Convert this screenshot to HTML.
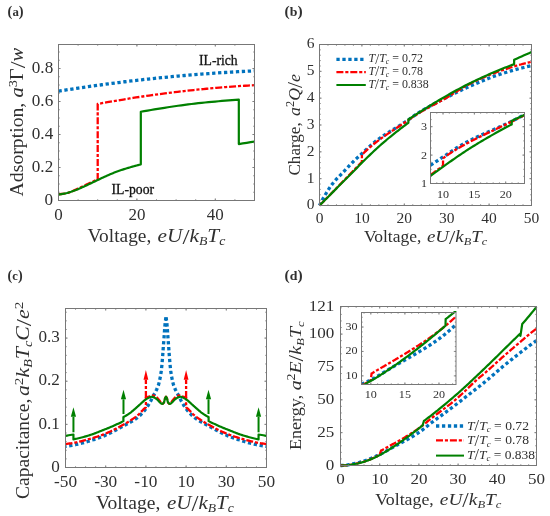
<!DOCTYPE html><html><head><meta charset="utf-8"><style>html,body{margin:0;padding:0;background:#fff;}svg{display:block;}</style></head><body>
<svg width="550" height="516" viewBox="0 0 550 516" font-family="'Liberation Serif', 'DejaVu Serif', serif" fill="#303030">
<rect width="550" height="516" fill="#fff"/>
<text x="7.6" y="15.6" font-size="14" textLength="16" lengthAdjust="spacingAndGlyphs" font-weight="bold">(<tspan font-size="12.5">a</tspan>)</text>
<text x="284.6" y="15.6" font-size="14" textLength="18" lengthAdjust="spacingAndGlyphs" font-weight="bold">(<tspan font-size="12.5">b</tspan>)</text>
<text x="7.6" y="279.6" font-size="14" textLength="15" lengthAdjust="spacingAndGlyphs" font-weight="bold">(<tspan font-size="12.5">c</tspan>)</text>
<text x="284.6" y="279.6" font-size="14" textLength="18" lengthAdjust="spacingAndGlyphs" font-weight="bold">(<tspan font-size="12.5">d</tspan>)</text>
<defs>
</defs>
<path d="M58.5,91.19 L61.82,90.65 L65.14,90.13 L68.47,89.6 L71.79,89.09 L75.11,88.58 L78.43,88.08 L81.75,87.58 L85.08,87.1 L88.4,86.61 L91.72,86.14 L95.04,85.67 L98.36,85.21 L101.69,84.75 L105.01,84.3 L108.33,83.86 L111.65,83.42 L114.97,82.99 L118.3,82.57 L121.62,82.15 L124.94,81.75 L128.26,81.34 L131.58,80.95 L134.91,80.56 L138.23,80.17 L141.55,79.8 L144.87,79.42 L148.19,79.06 L151.52,78.7 L154.84,78.35 L158.16,78.01 L161.48,77.67 L164.81,77.34 L168.13,77.02 L171.45,76.7 L174.77,76.39 L178.09,76.08 L181.42,75.78 L184.74,75.49 L188.06,75.21 L191.38,74.93 L194.7,74.66 L198.03,74.39 L201.35,74.13 L204.67,73.88 L207.99,73.64 L211.31,73.4 L214.64,73.17 L217.96,72.94 L221.28,72.72 L224.6,72.51 L227.92,72.3 L231.25,72.1 L234.57,71.91 L237.89,71.72 L241.21,71.54 L244.53,71.37 L247.86,71.2 L251.18,71.04 L254.5,70.89" stroke="#0072BD" stroke-width="3.3" stroke-dasharray="3.3 2.65" fill="none" stroke-linejoin="round"/>
<path d="M58.5,194.23 L59.85,194.13 L61.2,194.02 L62.56,193.88 L63.91,193.7 L65.26,193.47 L66.61,193.18 L67.96,192.81 L69.31,192.37 L70.67,191.88 L72.02,191.35 L73.37,190.77 L74.72,190.17 L76.07,189.54 L77.42,188.9 L78.78,188.25 L80.13,187.61 L81.48,186.96 L82.83,186.31 L84.18,185.66 L85.53,185.02 L86.89,184.38 L88.24,183.74 L89.59,183.11 L90.94,182.48 L92.29,181.86 L93.64,181.24 L95,180.62 L96.35,180 L97.7,179.38 L97.7,103.98 L100.9,103.39 L104.1,102.81 L107.3,102.24 L110.5,101.67 L113.7,101.12 L116.9,100.57 L120.1,100.04 L123.3,99.51 L126.5,98.99 L129.7,98.47 L132.9,97.97 L136.1,97.48 L139.3,96.99 L142.5,96.51 L145.7,96.04 L148.9,95.58 L152.1,95.13 L155.3,94.69 L158.5,94.25 L161.7,93.83 L164.9,93.41 L168.1,93 L171.3,92.6 L174.5,92.21 L177.7,91.82 L180.9,91.45 L184.1,91.08 L187.3,90.72 L190.5,90.37 L193.7,90.03 L196.9,89.7 L200.1,89.37 L203.3,89.06 L206.5,88.75 L209.7,88.45 L212.9,88.16 L216.1,87.88 L219.3,87.61 L222.5,87.34 L225.7,87.09 L228.9,86.84 L232.1,86.6 L235.3,86.37 L238.5,86.15 L241.7,85.93 L244.9,85.73 L248.1,85.53 L251.3,85.34 L254.5,85.16" stroke="#FF0000" stroke-width="2.3" stroke-dasharray="7 1.9 3.1 1.9" fill="none" stroke-linejoin="round"/>
<path d="M58.5,194.56 L59.9,194.35 L61.29,194.13 L62.69,193.9 L64.08,193.64 L65.48,193.36 L66.87,193.03 L68.27,192.66 L69.66,192.24 L71.06,191.8 L72.45,191.32 L73.85,190.81 L75.24,190.28 L76.64,189.72 L78.03,189.15 L79.43,188.56 L80.82,187.96 L82.22,187.35 L83.61,186.72 L85.01,186.08 L86.41,185.43 L87.8,184.77 L89.2,184.11 L90.59,183.44 L91.99,182.76 L93.38,182.08 L94.78,181.41 L96.17,180.73 L97.57,180.06 L98.96,179.39 L100.36,178.73 L101.75,178.07 L103.15,177.42 L104.54,176.78 L105.94,176.15 L107.33,175.53 L108.73,174.92 L110.12,174.32 L111.52,173.73 L112.91,173.16 L114.31,172.6 L115.71,172.06 L117.1,171.53 L118.5,171.02 L119.89,170.53 L121.29,170.05 L122.68,169.59 L124.08,169.13 L125.47,168.69 L126.87,168.26 L128.26,167.85 L129.66,167.44 L131.05,167.03 L132.45,166.64 L133.84,166.25 L135.24,165.87 L136.63,165.49 L138.03,165.11 L139.42,164.74 L140.82,164.37 L140.82,111.73 L144.2,111.15 L147.58,110.58 L150.96,110.01 L154.34,109.44 L157.72,108.88 L161.1,108.33 L164.48,107.79 L167.85,107.26 L171.23,106.75 L174.61,106.25 L177.99,105.76 L181.37,105.29 L184.75,104.84 L188.13,104.41 L191.51,103.99 L194.89,103.59 L198.27,103.2 L201.65,102.83 L205.03,102.48 L208.41,102.14 L211.79,101.83 L215.16,101.53 L218.54,101.24 L221.92,100.96 L225.3,100.69 L228.68,100.43 L232.06,100.18 L235.44,99.93 L238.82,99.69 L238.82,144.07 L242.74,143.45 L246.66,142.83 L250.58,142.21 L254.5,141.59" stroke="#008000" stroke-width="2.2" fill="none" stroke-linejoin="round"/>
<path d="M58.5,200.5v-1.3M58.5,44.5v1.3M78.1,200.5v-1.3M78.1,44.5v1.3M97.7,200.5v-1.3M97.7,44.5v1.3M117.3,200.5v-1.3M117.3,44.5v1.3M136.9,200.5v-1.3M136.9,44.5v1.3M156.5,200.5v-1.3M156.5,44.5v1.3M176.1,200.5v-1.3M176.1,44.5v1.3M195.7,200.5v-1.3M195.7,44.5v1.3M215.3,200.5v-1.3M215.3,44.5v1.3M234.9,200.5v-1.3M234.9,44.5v1.3M254.5,200.5v-1.3M254.5,44.5v1.3M58.5,200.5v-2.2M58.5,44.5v2.2M136.9,200.5v-2.2M136.9,44.5v2.2M215.3,200.5v-2.2M215.3,44.5v2.2M58.5,200.5h1.3M254.5,200.5h-1.3M58.5,192.25h1.3M254.5,192.25h-1.3M58.5,184h1.3M254.5,184h-1.3M58.5,175.75h1.3M254.5,175.75h-1.3M58.5,167.5h1.3M254.5,167.5h-1.3M58.5,159.25h1.3M254.5,159.25h-1.3M58.5,151h1.3M254.5,151h-1.3M58.5,142.75h1.3M254.5,142.75h-1.3M58.5,134.5h1.3M254.5,134.5h-1.3M58.5,126.25h1.3M254.5,126.25h-1.3M58.5,118h1.3M254.5,118h-1.3M58.5,109.75h1.3M254.5,109.75h-1.3M58.5,101.5h1.3M254.5,101.5h-1.3M58.5,93.25h1.3M254.5,93.25h-1.3M58.5,85h1.3M254.5,85h-1.3M58.5,76.75h1.3M254.5,76.75h-1.3M58.5,68.5h1.3M254.5,68.5h-1.3M58.5,60.25h1.3M254.5,60.25h-1.3M58.5,52h1.3M254.5,52h-1.3M58.5,200.5h2.2M254.5,200.5h-2.2M58.5,167.5h2.2M254.5,167.5h-2.2M58.5,134.5h2.2M254.5,134.5h-2.2M58.5,101.5h2.2M254.5,101.5h-2.2M58.5,68.5h2.2M254.5,68.5h-2.2" stroke="#777777" stroke-width="0.8" fill="none"/>
<rect x="58.5" y="44.5" width="196" height="156" stroke="#777777" stroke-width="1" fill="none"/>
<text x="53.2" y="205.3" font-size="16" text-anchor="end" textLength="8.56" lengthAdjust="spacingAndGlyphs">0</text>
<text x="53.2" y="172.3" font-size="16" text-anchor="end" textLength="21.4" lengthAdjust="spacingAndGlyphs">0.2</text>
<text x="53.2" y="139.3" font-size="16" text-anchor="end" textLength="21.4" lengthAdjust="spacingAndGlyphs">0.4</text>
<text x="53.2" y="106.3" font-size="16" text-anchor="end" textLength="21.4" lengthAdjust="spacingAndGlyphs">0.6</text>
<text x="53.2" y="73.3" font-size="16" text-anchor="end" textLength="21.4" lengthAdjust="spacingAndGlyphs">0.8</text>
<text x="58.5" y="219.5" font-size="16" text-anchor="middle" textLength="8.48" lengthAdjust="spacingAndGlyphs">0</text>
<text x="136.9" y="219.5" font-size="16" text-anchor="middle" textLength="16.96" lengthAdjust="spacingAndGlyphs">20</text>
<text x="215.3" y="219.5" font-size="16" text-anchor="middle" textLength="16.96" lengthAdjust="spacingAndGlyphs">40</text>
<text x="87.6" y="241.5" font-size="18" textLength="63.7" lengthAdjust="spacingAndGlyphs">Voltage,</text>
<text x="157.6" y="241.5" font-size="18" textLength="67.7" lengthAdjust="spacingAndGlyphs"><tspan font-style="italic">eU</tspan><tspan font-size="21.6" dy="2.16">/</tspan><tspan font-style="italic" dy="-2.16">k</tspan><tspan font-style="italic" font-size="11.7" dy="3.24">B</tspan><tspan font-style="italic" dy="-3.24">T</tspan><tspan font-style="italic" font-size="11.7" dy="3.24">c</tspan></text>
<text transform="translate(23,196.4) rotate(-90)" x="0" y="0" font-size="18" textLength="93.7" lengthAdjust="spacingAndGlyphs">Adsorption,</text>
<text transform="translate(23,97.6) rotate(-90)" x="0" y="0" font-size="18" textLength="49.8" lengthAdjust="spacingAndGlyphs"><tspan font-style="italic">a</tspan><tspan font-size="12.6" dy="-6.48">3</tspan><tspan dy="6.48">Γ</tspan><tspan font-size="21.6" dy="2.16">/</tspan><tspan font-style="italic" dy="-2.16">w</tspan></text>
<text x="199" y="64.6" font-size="14" textLength="38.7" lengthAdjust="spacingAndGlyphs" fill="#111" stroke="#111" stroke-width="0.3">IL-rich</text>
<text x="111.5" y="193.8" font-size="14" textLength="42.6" lengthAdjust="spacingAndGlyphs" fill="#111" stroke="#111" stroke-width="0.3">IL-poor</text>
<path d="M319.5,205.5 L321.28,201.93 L323.06,198.6 L324.84,195.49 L326.63,192.49 L328.41,189.63 L330.19,186.94 L331.97,184.47 L333.75,182.23 L335.53,180.17 L337.32,178.24 L339.1,176.4 L340.88,174.59 L342.66,172.78 L344.44,170.92 L346.22,169.01 L348,167.1 L349.79,165.21 L351.57,163.36 L353.35,161.56 L355.13,159.84 L356.91,158.16 L358.69,156.52 L360.47,154.89 L362.26,153.26 L364.04,151.61 L365.82,149.94 L367.6,148.28 L369.38,146.64 L371.16,145.04 L372.95,143.49 L374.73,142.02 L376.51,140.63 L378.29,139.3 L380.07,138.02 L381.85,136.78 L383.63,135.57 L385.42,134.4 L387.2,133.25 L388.98,132.12 L390.76,131.01 L392.54,129.92 L394.32,128.82 L396.11,127.74 L397.89,126.64 L399.67,125.54 L401.45,124.43 L403.23,123.3 L405.01,122.15 L406.79,120.97 L408.58,119.76 L410.36,118.49 L412.14,117.17 L413.92,115.86 L415.7,114.6 L417.48,113.44 L419.26,112.32 L421.05,111.23 L422.83,110.17 L424.61,109.13 L426.39,108.1 L428.17,107.1 L429.95,106.11 L431.74,105.14 L433.52,104.18 L435.3,103.24 L437.08,102.3 L438.86,101.37 L440.64,100.46 L442.42,99.54 L444.21,98.63 L445.99,97.73 L447.77,96.82 L449.55,95.92 L451.33,95.02 L453.11,94.13 L454.89,93.24 L456.68,92.37 L458.46,91.5 L460.24,90.65 L462.02,89.81 L463.8,88.98 L465.58,88.16 L467.37,87.35 L469.15,86.56 L470.93,85.78 L472.71,84.99 L474.49,84.22 L476.27,83.44 L478.05,82.67 L479.84,81.91 L481.62,81.16 L483.4,80.42 L485.18,79.69 L486.96,78.98 L488.74,78.28 L490.53,77.6 L492.31,76.93 L494.09,76.29 L495.87,75.67 L497.65,75.07 L499.43,74.48 L501.21,73.91 L503,73.34 L504.78,72.78 L506.56,72.23 L508.34,71.68 L510.12,71.15 L511.9,70.63 L513.68,70.12 L515.47,69.62 L517.25,69.13 L519.03,68.65 L520.81,68.19 L522.59,67.74 L524.37,67.3 L526.16,66.88 L527.94,66.47 L529.72,66.08 L531.5,65.7" stroke="#0072BD" stroke-width="3.3" stroke-dasharray="3.3 2.65" fill="none" stroke-linejoin="round"/>
<path d="M319.5,205.5 L320.59,204.4 L321.67,203.3 L322.76,202.19 L323.85,201.09 L324.94,199.98 L326.02,198.87 L327.11,197.77 L328.2,196.66 L329.28,195.55 L330.37,194.44 L331.46,193.32 L332.55,192.21 L333.63,191.1 L334.72,189.98 L335.81,188.86 L336.89,187.75 L337.98,186.62 L339.07,185.5 L340.16,184.38 L341.24,183.25 L342.33,182.12 L343.42,180.99 L344.51,179.86 L345.59,178.73 L346.68,177.6 L347.77,176.47 L348.85,175.35 L349.94,174.22 L351.03,173.09 L352.12,171.96 L353.2,170.84 L354.29,169.72 L355.38,168.6 L356.46,167.48 L357.55,166.36 L358.64,165.24 L359.73,164.13 L360.81,163.01 L361.9,161.9 L361.9,154.89 L364.05,152.67 L366.19,150.57 L368.34,148.62 L370.49,146.76 L372.63,144.97 L374.78,143.26 L376.93,141.6 L379.07,139.99 L381.22,138.42 L383.37,136.89 L385.52,135.39 L387.66,133.92 L389.81,132.47 L391.96,131.04 L394.1,129.62 L396.25,128.21 L398.4,126.8 L400.54,125.39 L402.69,123.98 L404.84,122.55 L406.98,121.11 L409.13,119.65 L411.28,118.15 L413.42,116.65 L415.57,115.2 L417.72,113.83 L419.86,112.52 L422.01,111.25 L424.16,110.02 L426.31,108.81 L428.45,107.62 L430.6,106.45 L432.75,105.3 L434.89,104.14 L437.04,102.99 L439.19,101.83 L441.33,100.65 L443.48,99.46 L445.63,98.25 L447.77,97 L449.92,95.71 L452.07,94.39 L454.21,93.05 L456.36,91.69 L458.51,90.35 L460.65,89.02 L462.8,87.72 L464.95,86.46 L467.09,85.26 L469.24,84.12 L471.39,83.05 L473.54,82 L475.68,80.97 L477.83,79.96 L479.98,78.98 L482.12,78.02 L484.27,77.09 L486.42,76.18 L488.56,75.3 L490.71,74.44 L492.86,73.61 L495,72.8 L497.15,72.02 L499.3,71.27 L501.44,70.52 L503.59,69.79 L505.74,69.07 L507.88,68.37 L510.03,67.68 L512.18,67 L514.33,66.35 L516.47,65.71 L518.62,65.09 L520.77,64.49 L522.91,63.91 L525.06,63.35 L527.21,62.81 L529.35,62.3 L531.5,61.81" stroke="#FF0000" stroke-width="2.3" stroke-dasharray="7 1.9 3.1 1.9" fill="none" stroke-linejoin="round"/>
<path d="M319.5,205.5 L321.01,203.99 L322.51,202.47 L324.02,200.96 L325.53,199.45 L327.03,197.93 L328.54,196.42 L330.04,194.91 L331.55,193.39 L333.06,191.88 L334.56,190.37 L336.07,188.85 L337.58,187.34 L339.08,185.83 L340.59,184.32 L342.09,182.81 L343.6,181.29 L345.11,179.78 L346.61,178.27 L348.12,176.76 L349.63,175.24 L351.13,173.73 L352.64,172.21 L354.14,170.69 L355.65,169.16 L357.16,167.62 L358.66,166.09 L360.17,164.57 L361.68,163.06 L363.18,161.56 L364.69,160.07 L366.19,158.58 L367.7,157.09 L369.21,155.61 L370.71,154.15 L372.22,152.7 L373.73,151.26 L375.23,149.85 L376.74,148.46 L378.24,147.1 L379.75,145.75 L381.26,144.43 L382.76,143.11 L384.27,141.82 L385.78,140.54 L387.28,139.27 L388.79,138.02 L390.3,136.78 L391.8,135.55 L393.31,134.34 L394.81,133.14 L396.32,131.95 L397.83,130.77 L399.33,129.6 L400.84,128.44 L402.35,127.3 L403.85,126.17 L405.36,125.05 L406.86,123.94 L408.37,122.85 L408.37,119.47 L410.16,118.29 L411.95,117.11 L413.75,115.94 L415.54,114.78 L417.33,113.64 L419.12,112.5 L420.92,111.36 L422.71,110.23 L424.5,109.1 L426.29,107.97 L428.09,106.85 L429.88,105.73 L431.67,104.62 L433.46,103.52 L435.25,102.44 L437.05,101.36 L438.84,100.29 L440.63,99.23 L442.42,98.19 L444.22,97.15 L446.01,96.12 L447.8,95.09 L449.59,94.07 L451.39,93.06 L453.18,92.05 L454.97,91.06 L456.76,90.07 L458.55,89.1 L460.35,88.13 L462.14,87.18 L463.93,86.25 L465.72,85.33 L467.52,84.43 L469.31,83.55 L471.1,82.68 L472.89,81.82 L474.69,80.96 L476.48,80.11 L478.27,79.27 L480.06,78.43 L481.85,77.6 L483.65,76.78 L485.44,75.97 L487.23,75.16 L489.02,74.36 L490.82,73.58 L492.61,72.8 L494.4,72.02 L496.19,71.26 L497.99,70.51 L499.78,69.77 L501.57,69.04 L503.36,68.32 L505.15,67.6 L506.95,66.91 L508.74,66.22 L510.53,65.54 L512.32,64.88 L514.12,64.22 L514.12,59.8 L516.6,58.68 L519.08,57.57 L521.57,56.46 L524.05,55.35 L526.53,54.24 L529.02,53.13 L531.5,52.01" stroke="#008000" stroke-width="2.2" fill="none" stroke-linejoin="round"/>
<path d="M319.5,205.5v-1.3M319.5,44.5v1.3M327.98,205.5v-1.3M327.98,44.5v1.3M336.46,205.5v-1.3M336.46,44.5v1.3M344.94,205.5v-1.3M344.94,44.5v1.3M353.42,205.5v-1.3M353.42,44.5v1.3M361.9,205.5v-1.3M361.9,44.5v1.3M370.38,205.5v-1.3M370.38,44.5v1.3M378.86,205.5v-1.3M378.86,44.5v1.3M387.34,205.5v-1.3M387.34,44.5v1.3M395.82,205.5v-1.3M395.82,44.5v1.3M404.3,205.5v-1.3M404.3,44.5v1.3M412.78,205.5v-1.3M412.78,44.5v1.3M421.26,205.5v-1.3M421.26,44.5v1.3M429.74,205.5v-1.3M429.74,44.5v1.3M438.22,205.5v-1.3M438.22,44.5v1.3M446.7,205.5v-1.3M446.7,44.5v1.3M455.18,205.5v-1.3M455.18,44.5v1.3M463.66,205.5v-1.3M463.66,44.5v1.3M472.14,205.5v-1.3M472.14,44.5v1.3M480.62,205.5v-1.3M480.62,44.5v1.3M489.1,205.5v-1.3M489.1,44.5v1.3M497.58,205.5v-1.3M497.58,44.5v1.3M506.06,205.5v-1.3M506.06,44.5v1.3M514.54,205.5v-1.3M514.54,44.5v1.3M523.02,205.5v-1.3M523.02,44.5v1.3M531.5,205.5v-1.3M531.5,44.5v1.3M319.5,205.5v-2.2M319.5,44.5v2.2M361.9,205.5v-2.2M361.9,44.5v2.2M404.3,205.5v-2.2M404.3,44.5v2.2M446.7,205.5v-2.2M446.7,44.5v2.2M489.1,205.5v-2.2M489.1,44.5v2.2M531.5,205.5v-2.2M531.5,44.5v2.2M319.5,205.5h1.3M531.5,205.5h-1.3M319.5,200.13h1.3M531.5,200.13h-1.3M319.5,194.77h1.3M531.5,194.77h-1.3M319.5,189.4h1.3M531.5,189.4h-1.3M319.5,184.03h1.3M531.5,184.03h-1.3M319.5,178.67h1.3M531.5,178.67h-1.3M319.5,173.3h1.3M531.5,173.3h-1.3M319.5,167.93h1.3M531.5,167.93h-1.3M319.5,162.57h1.3M531.5,162.57h-1.3M319.5,157.2h1.3M531.5,157.2h-1.3M319.5,151.83h1.3M531.5,151.83h-1.3M319.5,146.47h1.3M531.5,146.47h-1.3M319.5,141.1h1.3M531.5,141.1h-1.3M319.5,135.73h1.3M531.5,135.73h-1.3M319.5,130.37h1.3M531.5,130.37h-1.3M319.5,125h1.3M531.5,125h-1.3M319.5,119.63h1.3M531.5,119.63h-1.3M319.5,114.27h1.3M531.5,114.27h-1.3M319.5,108.9h1.3M531.5,108.9h-1.3M319.5,103.53h1.3M531.5,103.53h-1.3M319.5,98.17h1.3M531.5,98.17h-1.3M319.5,92.8h1.3M531.5,92.8h-1.3M319.5,87.43h1.3M531.5,87.43h-1.3M319.5,82.07h1.3M531.5,82.07h-1.3M319.5,76.7h1.3M531.5,76.7h-1.3M319.5,71.33h1.3M531.5,71.33h-1.3M319.5,65.97h1.3M531.5,65.97h-1.3M319.5,60.6h1.3M531.5,60.6h-1.3M319.5,55.23h1.3M531.5,55.23h-1.3M319.5,49.87h1.3M531.5,49.87h-1.3M319.5,44.5h1.3M531.5,44.5h-1.3M319.5,205.5h2.2M531.5,205.5h-2.2M319.5,178.67h2.2M531.5,178.67h-2.2M319.5,151.83h2.2M531.5,151.83h-2.2M319.5,125h2.2M531.5,125h-2.2M319.5,98.17h2.2M531.5,98.17h-2.2M319.5,71.33h2.2M531.5,71.33h-2.2M319.5,44.5h2.2M531.5,44.5h-2.2" stroke="#777777" stroke-width="0.8" fill="none"/>
<rect x="319.5" y="44.5" width="212" height="161" stroke="#777777" stroke-width="1" fill="none"/>
<text x="314.6" y="209.4" font-size="15.5" text-anchor="end">0</text>
<text x="314.6" y="182.57" font-size="15.5" text-anchor="end">1</text>
<text x="314.6" y="155.73" font-size="15.5" text-anchor="end">2</text>
<text x="314.6" y="128.9" font-size="15.5" text-anchor="end">3</text>
<text x="314.6" y="102.07" font-size="15.5" text-anchor="end">4</text>
<text x="314.6" y="75.23" font-size="15.5" text-anchor="end">5</text>
<text x="314.6" y="48.4" font-size="15.5" text-anchor="end">6</text>
<text x="319.5" y="222.5" font-size="15.5" text-anchor="middle">0</text>
<text x="361.9" y="222.5" font-size="15.5" text-anchor="middle">10</text>
<text x="404.3" y="222.5" font-size="15.5" text-anchor="middle">20</text>
<text x="446.7" y="222.5" font-size="15.5" text-anchor="middle">30</text>
<text x="489.1" y="222.5" font-size="15.5" text-anchor="middle">40</text>
<text x="531.5" y="222.5" font-size="15.5" text-anchor="middle">50</text>
<text x="363.9" y="241.7" font-size="16" textLength="57.4" lengthAdjust="spacingAndGlyphs">Voltage,</text>
<text x="426.9" y="241.7" font-size="16" textLength="60.3" lengthAdjust="spacingAndGlyphs"><tspan font-style="italic">eU</tspan><tspan font-size="19.2" dy="1.92">/</tspan><tspan font-style="italic" dy="-1.92">k</tspan><tspan font-style="italic" font-size="10.4" dy="2.88">B</tspan><tspan font-style="italic" dy="-2.88">T</tspan><tspan font-style="italic" font-size="10.4" dy="2.88">c</tspan></text>
<text transform="translate(300,175.5) rotate(-90)" x="0" y="0" font-size="17.5" textLength="53.2" lengthAdjust="spacingAndGlyphs">Charge,</text>
<text transform="translate(300,115.9) rotate(-90)" x="0" y="0" font-size="17.5" textLength="41.7" lengthAdjust="spacingAndGlyphs"><tspan font-style="italic">a</tspan><tspan font-size="12.2" dy="-6.30">2</tspan><tspan font-style="italic" dy="6.30">Q</tspan><tspan font-size="21.0" dy="2.10">/</tspan><tspan font-style="italic" dy="-2.10">e</tspan></text>
<path d="M336.4,59.4H365.8" stroke="#0072BD" stroke-width="3.3" stroke-dasharray="3.3 2.65"/>
<text x="368.5" y="62.3" font-size="11.5" textLength="54.4" lengthAdjust="spacingAndGlyphs"><tspan font-style="italic">T</tspan><tspan font-size="13.8" dy="1.38">/</tspan><tspan font-style="italic" dy="-1.38">T</tspan><tspan font-style="italic" font-size="7.5" dy="2.07">c</tspan><tspan dy="-2.07"> = 0.72</tspan></text>
<path d="M336.4,72.1H365.8" stroke="#FF0000" stroke-width="2.3" stroke-dasharray="7 1.9 3.1 1.9"/>
<text x="368.5" y="75.1" font-size="11.5" textLength="54.4" lengthAdjust="spacingAndGlyphs"><tspan font-style="italic">T</tspan><tspan font-size="13.8" dy="1.38">/</tspan><tspan font-style="italic" dy="-1.38">T</tspan><tspan font-style="italic" font-size="7.5" dy="2.07">c</tspan><tspan dy="-2.07"> = 0.78</tspan></text>
<path d="M336.4,85H365.8" stroke="#008000" stroke-width="2"/>
<text x="368.5" y="87.9" font-size="11.5" textLength="60.2" lengthAdjust="spacingAndGlyphs"><tspan font-style="italic">T</tspan><tspan font-size="13.8" dy="1.38">/</tspan><tspan font-style="italic" dy="-1.38">T</tspan><tspan font-style="italic" font-size="7.5" dy="2.07">c</tspan><tspan dy="-2.07"> = 0.838</tspan></text>
<rect x="430.5" y="112.5" width="94" height="71" fill="#fff"/>
<clipPath id="cbi"><rect x="430.5" y="111.0" width="95.5" height="72.5"/></clipPath>
<path d="M430.5,165.32 L431.29,164.77 L432.08,164.22 L432.87,163.68 L433.66,163.14 L434.45,162.61 L435.24,162.08 L436.03,161.55 L436.82,161.03 L437.61,160.51 L438.4,159.99 L439.19,159.47 L439.98,158.96 L440.77,158.44 L441.56,157.93 L442.35,157.41 L443.14,156.89 L443.93,156.37 L444.72,155.85 L445.51,155.32 L446.3,154.79 L447.09,154.26 L447.88,153.73 L448.67,153.2 L449.46,152.67 L450.25,152.15 L451.04,151.62 L451.83,151.09 L452.62,150.57 L453.41,150.05 L454.2,149.53 L454.99,149.02 L455.78,148.51 L456.57,148.01 L457.36,147.51 L458.15,147.02 L458.94,146.53 L459.73,146.05 L460.52,145.57 L461.31,145.11 L462.1,144.65 L462.89,144.2 L463.68,143.76 L464.47,143.33 L465.26,142.9 L466.05,142.48 L466.84,142.06 L467.63,141.64 L468.42,141.23 L469.21,140.83 L470,140.42 L470.79,140.03 L471.58,139.63 L472.37,139.24 L473.16,138.85 L473.95,138.47 L474.74,138.09 L475.53,137.71 L476.32,137.34 L477.11,136.96 L477.89,136.6 L478.68,136.23 L479.47,135.86 L480.26,135.5 L481.05,135.14 L481.84,134.78 L482.63,134.43 L483.42,134.07 L484.21,133.72 L485,133.37 L485.79,133.02 L486.58,132.67 L487.37,132.32 L488.16,131.97 L488.95,131.62 L489.74,131.28 L490.53,130.93 L491.32,130.59 L492.11,130.24 L492.9,129.9 L493.69,129.55 L494.48,129.2 L495.27,128.86 L496.06,128.51 L496.85,128.16 L497.64,127.81 L498.43,127.46 L499.22,127.11 L500.01,126.76 L500.8,126.41 L501.59,126.05 L502.38,125.7 L503.17,125.34 L503.96,124.98 L504.75,124.61 L505.54,124.25 L506.33,123.88 L507.12,123.51 L507.91,123.14 L508.7,122.76 L509.49,122.39 L510.28,122 L511.07,121.62 L511.86,121.23 L512.65,120.84 L513.44,120.44 L514.23,120.03 L515.02,119.61 L515.81,119.2 L516.6,118.78 L517.39,118.36 L518.18,117.94 L518.97,117.52 L519.76,117.11 L520.55,116.7 L521.34,116.3 L522.13,115.9 L522.92,115.52 L523.71,115.14 L524.5,114.77" stroke="#0072BD" stroke-width="3.3" stroke-dasharray="3.3 2.65" fill="none" stroke-linejoin="round" clip-path="url(#cbi)"/>
<path d="M430.5,174.98 L430.82,174.74 L431.14,174.51 L431.46,174.27 L431.79,174.03 L432.11,173.79 L432.43,173.56 L432.75,173.32 L433.07,173.08 L433.39,172.84 L433.71,172.61 L434.04,172.37 L434.36,172.13 L434.68,171.9 L435,171.66 L435.32,171.42 L435.64,171.19 L435.96,170.95 L436.28,170.71 L436.61,170.48 L436.93,170.24 L437.25,170 L437.57,169.77 L437.89,169.53 L438.21,169.29 L438.53,169.06 L438.86,168.82 L439.18,168.58 L439.5,168.35 L439.82,168.11 L440.14,167.88 L440.46,167.64 L440.78,167.4 L441.11,167.17 L441.43,166.93 L441.75,166.69 L442.07,166.46 L442.39,166.22 L442.71,165.99 L443.03,165.75 L443.03,158.34 L444.06,157.56 L445.1,156.8 L446.13,156.04 L447.16,155.3 L448.19,154.57 L449.22,153.87 L450.25,153.18 L451.28,152.51 L452.31,151.85 L453.35,151.2 L454.38,150.56 L455.41,149.92 L456.44,149.3 L457.47,148.68 L458.5,148.07 L459.53,147.47 L460.56,146.88 L461.6,146.29 L462.63,145.71 L463.66,145.14 L464.69,144.57 L465.72,144.01 L466.75,143.45 L467.78,142.9 L468.81,142.36 L469.85,141.81 L470.88,141.28 L471.91,140.74 L472.94,140.21 L473.97,139.69 L475,139.16 L476.03,138.65 L477.06,138.13 L478.09,137.62 L479.13,137.11 L480.16,136.6 L481.19,136.1 L482.22,135.6 L483.25,135.1 L484.28,134.61 L485.31,134.11 L486.34,133.62 L487.38,133.13 L488.41,132.64 L489.44,132.15 L490.47,131.66 L491.5,131.18 L492.53,130.69 L493.56,130.21 L494.59,129.72 L495.63,129.24 L496.66,128.76 L497.69,128.27 L498.72,127.79 L499.75,127.3 L500.78,126.82 L501.81,126.33 L502.84,125.84 L503.88,125.36 L504.91,124.87 L505.94,124.38 L506.97,123.88 L508,123.39 L509.03,122.89 L510.06,122.39 L511.09,121.89 L512.13,121.39 L513.16,120.88 L514.19,120.36 L515.22,119.85 L516.25,119.33 L517.28,118.81 L518.31,118.3 L519.34,117.79 L520.38,117.28 L521.41,116.78 L522.44,116.29 L523.47,115.81 L524.5,115.34" stroke="#FF0000" stroke-width="2.3" stroke-dasharray="7 1.9 3.1 1.9" fill="none" stroke-linejoin="round" clip-path="url(#cbi)"/>
<path d="M430.5,175.83 L431.88,174.83 L433.25,173.83 L434.63,172.83 L436.01,171.82 L437.38,170.82 L438.76,169.82 L440.14,168.82 L441.51,167.83 L442.89,166.85 L444.27,165.87 L445.64,164.89 L447.02,163.91 L448.4,162.94 L449.77,161.96 L451.15,160.99 L452.52,160.02 L453.9,159.05 L455.28,158.09 L456.65,157.14 L458.03,156.19 L459.41,155.25 L460.78,154.31 L462.16,153.39 L463.54,152.47 L464.91,151.57 L466.29,150.67 L467.67,149.78 L469.04,148.9 L470.42,148.03 L471.8,147.16 L473.17,146.3 L474.55,145.45 L475.93,144.6 L477.3,143.76 L478.68,142.93 L480.06,142.1 L481.43,141.27 L482.81,140.46 L484.19,139.65 L485.56,138.84 L486.94,138.04 L488.31,137.24 L489.69,136.45 L491.07,135.66 L492.44,134.88 L493.82,134.1 L495.2,133.32 L496.57,132.56 L497.95,131.79 L499.33,131.03 L500.7,130.28 L502.08,129.53 L503.46,128.78 L504.83,128.04 L506.21,127.31 L507.59,126.58 L508.96,125.86 L510.34,125.14 L511.72,124.43 L511.72,120.85 L511.93,120.75 L512.15,120.64 L512.37,120.54 L512.58,120.44 L512.8,120.34 L513.02,120.24 L513.23,120.13 L513.45,120.03 L513.67,119.93 L513.88,119.83 L514.1,119.72 L514.32,119.62 L514.53,119.52 L514.75,119.42 L514.97,119.31 L515.18,119.21 L515.4,119.11 L515.62,119.01 L515.83,118.91 L516.05,118.81 L516.27,118.7 L516.48,118.6 L516.7,118.5 L516.92,118.4 L517.13,118.3 L517.35,118.19 L517.57,118.09 L517.78,117.99 L518,117.89 L518.22,117.79 L518.43,117.69 L518.65,117.59 L518.87,117.49 L519.08,117.38 L519.3,117.28 L519.52,117.18 L519.73,117.08 L519.95,116.98 L520.17,116.88 L520.38,116.78 L520.6,116.68 L520.82,116.58 L521.03,116.48 L521.25,116.38 L521.47,116.28 L521.68,116.18 L521.9,116.08 L522.12,115.98 L522.33,115.88 L522.55,115.78 L522.77,115.68 L522.98,115.58 L523.2,115.48 L523.42,115.38 L523.63,115.28 L523.85,115.18 L524.07,115.08 L524.28,114.98 L524.5,114.89" stroke="#008000" stroke-width="2.2" fill="none" stroke-linejoin="round" clip-path="url(#cbi)"/>
<path d="M430.5,183.5v-1.2M430.5,112.5v1.2M436.77,183.5v-1.2M436.77,112.5v1.2M443.03,183.5v-1.2M443.03,112.5v1.2M449.3,183.5v-1.2M449.3,112.5v1.2M455.57,183.5v-1.2M455.57,112.5v1.2M461.83,183.5v-1.2M461.83,112.5v1.2M468.1,183.5v-1.2M468.1,112.5v1.2M474.37,183.5v-1.2M474.37,112.5v1.2M480.63,183.5v-1.2M480.63,112.5v1.2M486.9,183.5v-1.2M486.9,112.5v1.2M493.17,183.5v-1.2M493.17,112.5v1.2M499.43,183.5v-1.2M499.43,112.5v1.2M505.7,183.5v-1.2M505.7,112.5v1.2M511.97,183.5v-1.2M511.97,112.5v1.2M518.23,183.5v-1.2M518.23,112.5v1.2M524.5,183.5v-1.2M524.5,112.5v1.2M443.03,183.5v-2.2M443.03,112.5v2.2M474.37,183.5v-2.2M474.37,112.5v2.2M505.7,183.5v-2.2M505.7,112.5v2.2M430.5,183.5h1.2M524.5,183.5h-1.2M430.5,176.4h1.2M524.5,176.4h-1.2M430.5,169.3h1.2M524.5,169.3h-1.2M430.5,162.2h1.2M524.5,162.2h-1.2M430.5,155.1h1.2M524.5,155.1h-1.2M430.5,148h1.2M524.5,148h-1.2M430.5,140.9h1.2M524.5,140.9h-1.2M430.5,133.8h1.2M524.5,133.8h-1.2M430.5,126.7h1.2M524.5,126.7h-1.2M430.5,119.6h1.2M524.5,119.6h-1.2M430.5,112.5h1.2M524.5,112.5h-1.2M430.5,183.5h2.2M524.5,183.5h-2.2M430.5,155.1h2.2M524.5,155.1h-2.2M430.5,126.7h2.2M524.5,126.7h-2.2" stroke="#777777" stroke-width="0.8" fill="none"/>
<rect x="430.5" y="112.5" width="94" height="71" stroke="#777777" stroke-width="1" fill="none"/>
<text x="427" y="187" font-size="11" text-anchor="end" textLength="6.05" lengthAdjust="spacingAndGlyphs">1</text>
<text x="427" y="158.6" font-size="11" text-anchor="end" textLength="6.05" lengthAdjust="spacingAndGlyphs">2</text>
<text x="427" y="130.2" font-size="11" text-anchor="end" textLength="6.05" lengthAdjust="spacingAndGlyphs">3</text>
<text x="443.03" y="198.4" font-size="11" text-anchor="middle" textLength="12.1" lengthAdjust="spacingAndGlyphs">10</text>
<text x="474.37" y="198.4" font-size="11" text-anchor="middle" textLength="12.1" lengthAdjust="spacingAndGlyphs">15</text>
<text x="505.7" y="198.4" font-size="11" text-anchor="middle" textLength="12.1" lengthAdjust="spacingAndGlyphs">20</text>
<path d="M166,317.39 L165.33,321.37 L164.65,328.65 L163.98,338.69 L163.3,346.98 L162.63,356.55 L161.95,364.51 L161.28,370.95 L160.6,375.41 L159.93,378.91 L159.26,382.08 L158.58,384.63 L157.91,386.55 L157.23,388.25 L156.56,389.75 L155.88,391.12 L155.21,392.4 L154.53,393.64 L153.86,394.89 L153.18,396.2 L152.51,397.52 L151.84,398.84 L151.16,400.14 L150.49,401.4 L149.81,402.63 L149.14,403.81 L148.46,404.94 L147.79,406 L147.11,407.01 L146.44,407.98 L145.77,408.9 L145.09,409.78 L144.42,410.61 L143.74,411.4 L143.07,412.17 L142.39,412.93 L141.72,413.66 L141.04,414.37 L140.37,415.05 L139.69,415.71 L139.02,416.33 L138.35,416.91 L137.67,417.45 L137,417.97 L136.32,418.46 L135.65,418.94 L134.97,419.4 L134.3,419.85 L133.62,420.29 L132.95,420.71 L132.28,421.12 L131.6,421.52 L130.93,421.91 L130.25,422.3 L129.58,422.67 L128.9,423.04 L128.23,423.41 L127.55,423.77 L126.88,424.13 L126.2,424.49 L125.53,424.84 L124.86,425.2 L124.18,425.56 L123.51,425.92 L122.83,426.28 L122.16,426.65 L121.48,427.01 L120.81,427.38 L120.13,427.75 L119.46,428.12 L118.79,428.48 L118.11,428.85 L117.44,429.22 L116.76,429.58 L116.09,429.95 L115.41,430.31 L114.74,430.67 L114.06,431.03 L113.39,431.39 L112.71,431.74 L112.04,432.09 L111.37,432.44 L110.69,432.78 L110.02,433.12 L109.34,433.46 L108.67,433.79 L107.99,434.11 L107.32,434.43 L106.64,434.75 L105.97,435.06 L105.3,435.36 L104.62,435.66 L103.95,435.95 L103.27,436.24 L102.6,436.52 L101.92,436.79 L101.25,437.05 L100.57,437.3 L99.9,437.55 L99.22,437.79 L98.55,438.02 L97.88,438.24 L97.2,438.47 L96.53,438.69 L95.85,438.92 L95.18,439.14 L94.5,439.36 L93.83,439.58 L93.15,439.8 L92.48,440.02 L91.81,440.23 L91.13,440.44 L90.46,440.65 L89.78,440.86 L89.11,441.07 L88.43,441.27 L87.76,441.48 L87.08,441.68 L86.41,441.87 L85.73,442.07 L85.06,442.26 L84.39,442.45 L83.71,442.64 L83.04,442.82 L82.36,443.01 L81.69,443.18 L81.01,443.36 L80.34,443.53 L79.66,443.7 L78.99,443.87 L78.32,444.03 L77.64,444.19 L76.97,444.34 L76.29,444.49 L75.62,444.64 L74.94,444.79 L74.27,444.93 L73.59,445.06 L72.92,445.2 L72.24,445.32 L71.57,445.45 L70.9,445.57 L70.22,445.68 L69.55,445.8 L68.87,445.9 L68.2,446 L67.52,446.1 L66.85,446.19 L66.17,446.28 L65.5,446.36" stroke="#0072BD" stroke-width="3.3" stroke-dasharray="3.3 2.65" fill="none" stroke-linejoin="round"/>
<path d="M166,317.39 L166.67,321.37 L167.35,328.65 L168.02,338.69 L168.7,346.98 L169.37,356.55 L170.05,364.51 L170.72,370.95 L171.4,375.41 L172.07,378.91 L172.74,382.08 L173.42,384.63 L174.09,386.55 L174.77,388.25 L175.44,389.75 L176.12,391.12 L176.79,392.4 L177.47,393.64 L178.14,394.89 L178.82,396.2 L179.49,397.52 L180.16,398.84 L180.84,400.14 L181.51,401.4 L182.19,402.63 L182.86,403.81 L183.54,404.94 L184.21,406 L184.89,407.01 L185.56,407.98 L186.23,408.9 L186.91,409.78 L187.58,410.61 L188.26,411.4 L188.93,412.17 L189.61,412.93 L190.28,413.66 L190.96,414.37 L191.63,415.05 L192.31,415.71 L192.98,416.33 L193.65,416.91 L194.33,417.45 L195,417.97 L195.68,418.46 L196.35,418.94 L197.03,419.4 L197.7,419.85 L198.38,420.29 L199.05,420.71 L199.72,421.12 L200.4,421.52 L201.07,421.91 L201.75,422.3 L202.42,422.67 L203.1,423.04 L203.77,423.41 L204.45,423.77 L205.12,424.13 L205.8,424.49 L206.47,424.84 L207.14,425.2 L207.82,425.56 L208.49,425.92 L209.17,426.28 L209.84,426.65 L210.52,427.01 L211.19,427.38 L211.87,427.75 L212.54,428.12 L213.21,428.48 L213.89,428.85 L214.56,429.22 L215.24,429.58 L215.91,429.95 L216.59,430.31 L217.26,430.67 L217.94,431.03 L218.61,431.39 L219.29,431.74 L219.96,432.09 L220.63,432.44 L221.31,432.78 L221.98,433.12 L222.66,433.46 L223.33,433.79 L224.01,434.11 L224.68,434.43 L225.36,434.75 L226.03,435.06 L226.7,435.36 L227.38,435.66 L228.05,435.95 L228.73,436.24 L229.4,436.52 L230.08,436.79 L230.75,437.05 L231.43,437.3 L232.1,437.55 L232.78,437.79 L233.45,438.02 L234.12,438.24 L234.8,438.47 L235.47,438.69 L236.15,438.92 L236.82,439.14 L237.5,439.36 L238.17,439.58 L238.85,439.8 L239.52,440.02 L240.19,440.23 L240.87,440.44 L241.54,440.65 L242.22,440.86 L242.89,441.07 L243.57,441.27 L244.24,441.48 L244.92,441.68 L245.59,441.87 L246.27,442.07 L246.94,442.26 L247.61,442.45 L248.29,442.64 L248.96,442.82 L249.64,443.01 L250.31,443.18 L250.99,443.36 L251.66,443.53 L252.34,443.7 L253.01,443.87 L253.68,444.03 L254.36,444.19 L255.03,444.34 L255.71,444.49 L256.38,444.64 L257.06,444.79 L257.73,444.93 L258.41,445.06 L259.08,445.2 L259.76,445.32 L260.43,445.45 L261.1,445.57 L261.78,445.68 L262.45,445.8 L263.13,445.9 L263.8,446 L264.48,446.1 L265.15,446.19 L265.83,446.28 L266.5,446.36" stroke="#0072BD" stroke-width="3.3" stroke-dasharray="3.3 2.65" fill="none" stroke-linejoin="round"/>
<path d="M65.5,444.03 L66.86,443.88 L68.23,443.7 L69.59,443.51 L70.95,443.3 L72.31,443.07 L73.68,442.82 L75.04,442.56 L76.4,442.29 L77.76,441.99 L79.13,441.69 L80.49,441.37 L81.85,441.04 L83.22,440.69 L84.58,440.34 L85.94,439.97 L87.3,439.6 L88.67,439.21 L90.03,438.82 L91.39,438.42 L92.75,438.01 L94.12,437.59 L95.48,437.17 L96.84,436.74 L98.21,436.31 L99.57,435.87 L100.93,435.4 L102.29,434.91 L103.66,434.38 L105.02,433.84 L106.38,433.26 L107.74,432.67 L109.11,432.05 L110.47,431.42 L111.83,430.76 L113.19,430.09 L114.56,429.4 L115.92,428.7 L117.28,427.99 L118.65,427.27 L120.01,426.53 L121.37,425.79 L122.73,425.05 L124.1,424.29 L125.46,423.52 L126.82,422.73 L128.18,421.92 L129.55,421.08 L130.91,420.21 L132.27,419.31 L133.64,418.36 L135,417.38 L136.36,416.34 L137.72,415.25 L139.09,414.01 L140.45,412.59 L141.81,411.12 L143.17,409.71 L144.54,408.44 L145.9,407.33 L145.9,397.62 L146.42,397.44 L146.93,397.27 L147.45,397.09 L147.96,396.93 L148.48,396.76 L148.99,396.6 L149.51,396.45 L150.02,396.3 L150.54,396.13 L151.05,395.94 L151.57,395.76 L152.08,395.61 L152.6,395.51 L153.12,395.46 L153.63,395.52 L154.15,395.7 L154.66,395.95 L155.18,396.26 L155.69,396.59 L156.21,396.93 L156.72,397.37 L157.24,397.88 L157.75,398.46 L158.27,399.07 L158.78,399.7 L159.3,400.33 L159.82,400.96 L160.33,401.75 L160.85,402.59 L161.36,403.32 L161.88,403.79 L162.39,403.85 L162.91,403.6 L163.42,403.11 L163.94,402.44 L164.45,400.72 L164.97,398.55 L165.48,397.43 L166,396.76 L166.52,397.43 L167.03,398.55 L167.55,400.72 L168.06,402.44 L168.58,403.11 L169.09,403.6 L169.61,403.85 L170.12,403.79 L170.64,403.32 L171.15,402.59 L171.67,401.75 L172.18,400.96 L172.7,400.33 L173.22,399.7 L173.73,399.07 L174.25,398.46 L174.76,397.88 L175.28,397.37 L175.79,396.93 L176.31,396.59 L176.82,396.26 L177.34,395.95 L177.85,395.7 L178.37,395.52 L178.88,395.46 L179.4,395.51 L179.92,395.61 L180.43,395.76 L180.95,395.94 L181.46,396.13 L181.98,396.3 L182.49,396.45 L183.01,396.6 L183.52,396.76 L184.04,396.93 L184.55,397.09 L185.07,397.27 L185.58,397.44 L186.1,397.62 L186.1,407.33 L187.46,408.44 L188.83,409.71 L190.19,411.12 L191.55,412.59 L192.91,414.01 L194.28,415.25 L195.64,416.34 L197,417.38 L198.36,418.36 L199.73,419.31 L201.09,420.21 L202.45,421.08 L203.82,421.92 L205.18,422.73 L206.54,423.52 L207.9,424.29 L209.27,425.05 L210.63,425.79 L211.99,426.53 L213.35,427.27 L214.72,427.99 L216.08,428.7 L217.44,429.4 L218.81,430.09 L220.17,430.76 L221.53,431.42 L222.89,432.05 L224.26,432.67 L225.62,433.26 L226.98,433.84 L228.34,434.38 L229.71,434.91 L231.07,435.4 L232.43,435.87 L233.79,436.31 L235.16,436.74 L236.52,437.17 L237.88,437.59 L239.25,438.01 L240.61,438.42 L241.97,438.82 L243.33,439.21 L244.7,439.6 L246.06,439.97 L247.42,440.34 L248.78,440.69 L250.15,441.04 L251.51,441.37 L252.87,441.69 L254.24,441.99 L255.6,442.29 L256.96,442.56 L258.32,442.82 L259.69,443.07 L261.05,443.3 L262.41,443.51 L263.77,443.7 L265.14,443.88 L266.5,444.03" stroke="#FF0000" stroke-width="2.3" stroke-dasharray="7 1.9 3.1 1.9" fill="none" stroke-linejoin="round"/>
<path d="M65.5,435.8 L67.09,435.54 L68.68,435.28 L70.26,435.02 L71.85,434.76 L73.44,434.5 L73.44,439.38 L74.46,439.17 L75.48,438.95 L76.5,438.72 L77.52,438.49 L78.54,438.25 L79.56,438.01 L80.58,437.75 L81.59,437.49 L82.61,437.22 L83.63,436.95 L84.65,436.67 L85.67,436.37 L86.69,436.07 L87.71,435.76 L88.73,435.45 L89.75,435.12 L90.77,434.79 L91.79,434.45 L92.81,434.1 L93.83,433.74 L94.85,433.36 L95.87,432.97 L96.88,432.57 L97.9,432.16 L98.92,431.75 L99.94,431.34 L100.96,430.93 L101.98,430.53 L103,430.13 L104.02,429.73 L105.04,429.33 L106.06,428.93 L107.08,428.52 L108.1,428.12 L109.12,427.7 L110.14,427.28 L111.16,426.85 L112.18,426.42 L113.19,425.97 L114.21,425.51 L115.23,425.05 L116.25,424.59 L117.27,424.11 L118.29,423.63 L119.31,423.14 L120.33,422.65 L121.35,422.15 L122.37,421.64 L123.39,421.13 L123.39,417.03 L123.75,416.86 L124.1,416.68 L124.46,416.49 L124.82,416.3 L125.18,416.1 L125.54,415.9 L125.89,415.69 L126.25,415.48 L126.61,415.26 L126.97,415.04 L127.33,414.82 L127.69,414.59 L128.04,414.36 L128.4,414.12 L128.76,413.88 L129.12,413.64 L129.48,413.39 L129.83,413.14 L130.19,412.88 L130.55,412.62 L130.91,412.34 L131.27,412.06 L131.62,411.77 L131.98,411.47 L132.34,411.17 L132.7,410.87 L133.06,410.56 L133.41,410.25 L133.77,409.94 L134.13,409.63 L134.49,409.32 L134.85,409.01 L135.2,408.7 L135.56,408.39 L135.92,408.07 L136.28,407.75 L136.64,407.43 L137,407.11 L137.35,406.79 L137.71,406.46 L138.07,406.14 L138.43,405.82 L138.79,405.49 L139.14,405.17 L139.5,404.85 L139.86,404.53 L140.22,404.21 L140.58,403.89 L140.93,403.56 L141.29,403.22 L141.65,402.89 L142.01,402.56 L142.37,402.22 L142.72,401.9 L143.08,401.57 L143.44,401.26 L143.8,400.95 L144.16,400.65 L144.51,400.36 L144.87,400.08 L145.23,399.82 L145.59,399.57 L145.95,399.33 L146.31,399.09 L146.66,398.85 L147.02,398.62 L147.38,398.41 L147.74,398.2 L148.1,398.01 L148.45,397.83 L148.81,397.66 L149.17,397.51 L149.53,397.35 L149.89,397.19 L150.24,397.04 L150.6,396.92 L150.96,396.82 L151.32,396.77 L151.68,396.76 L152.03,396.8 L152.39,396.87 L152.75,396.97 L153.11,397.09 L153.47,397.23 L153.83,397.36 L154.18,397.5 L154.54,397.67 L154.9,397.87 L155.26,398.09 L155.62,398.34 L155.97,398.59 L156.33,398.86 L156.69,399.14 L157.05,399.42 L157.41,399.74 L157.76,400.09 L158.12,400.47 L158.48,400.87 L158.84,401.26 L159.2,401.64 L159.55,402 L159.91,402.32 L160.27,402.62 L160.63,402.95 L160.99,403.27 L161.34,403.55 L161.7,403.76 L162.06,403.87 L162.42,403.84 L162.78,403.68 L163.14,403.41 L163.49,403.03 L163.85,402.56 L164.21,401.78 L164.57,400.17 L164.93,398.67 L165.28,397.83 L165.64,397.16 L166,396.76 L166.36,397.16 L166.72,397.83 L167.07,398.67 L167.43,400.17 L167.79,401.78 L168.15,402.56 L168.51,403.03 L168.86,403.41 L169.22,403.68 L169.58,403.84 L169.94,403.87 L170.3,403.76 L170.66,403.55 L171.01,403.27 L171.37,402.95 L171.73,402.62 L172.09,402.32 L172.45,402 L172.8,401.64 L173.16,401.26 L173.52,400.87 L173.88,400.47 L174.24,400.09 L174.59,399.74 L174.95,399.42 L175.31,399.14 L175.67,398.86 L176.03,398.59 L176.38,398.34 L176.74,398.09 L177.1,397.87 L177.46,397.67 L177.82,397.5 L178.17,397.36 L178.53,397.23 L178.89,397.09 L179.25,396.97 L179.61,396.87 L179.97,396.8 L180.32,396.76 L180.68,396.77 L181.04,396.82 L181.4,396.92 L181.76,397.04 L182.11,397.19 L182.47,397.35 L182.83,397.51 L183.19,397.66 L183.55,397.83 L183.9,398.01 L184.26,398.2 L184.62,398.41 L184.98,398.62 L185.34,398.85 L185.69,399.09 L186.05,399.33 L186.41,399.57 L186.77,399.82 L187.13,400.08 L187.49,400.36 L187.84,400.65 L188.2,400.95 L188.56,401.26 L188.92,401.57 L189.28,401.9 L189.63,402.22 L189.99,402.56 L190.35,402.89 L190.71,403.22 L191.07,403.56 L191.42,403.89 L191.78,404.21 L192.14,404.53 L192.5,404.85 L192.86,405.17 L193.21,405.49 L193.57,405.82 L193.93,406.14 L194.29,406.46 L194.65,406.79 L195,407.11 L195.36,407.43 L195.72,407.75 L196.08,408.07 L196.44,408.39 L196.8,408.7 L197.15,409.01 L197.51,409.32 L197.87,409.63 L198.23,409.94 L198.59,410.25 L198.94,410.56 L199.3,410.87 L199.66,411.17 L200.02,411.47 L200.38,411.77 L200.73,412.06 L201.09,412.34 L201.45,412.62 L201.81,412.88 L202.17,413.14 L202.52,413.39 L202.88,413.64 L203.24,413.88 L203.6,414.12 L203.96,414.36 L204.31,414.59 L204.67,414.82 L205.03,415.04 L205.39,415.26 L205.75,415.48 L206.11,415.69 L206.46,415.9 L206.82,416.1 L207.18,416.3 L207.54,416.49 L207.9,416.68 L208.25,416.86 L208.61,417.03 L208.61,421.13 L209.63,421.64 L210.65,422.15 L211.67,422.65 L212.69,423.14 L213.71,423.63 L214.73,424.11 L215.75,424.59 L216.77,425.05 L217.79,425.51 L218.81,425.97 L219.82,426.42 L220.84,426.85 L221.86,427.28 L222.88,427.7 L223.9,428.12 L224.92,428.52 L225.94,428.93 L226.96,429.33 L227.98,429.73 L229,430.13 L230.02,430.53 L231.04,430.93 L232.06,431.34 L233.08,431.75 L234.1,432.16 L235.12,432.57 L236.13,432.97 L237.15,433.36 L238.17,433.74 L239.19,434.1 L240.21,434.45 L241.23,434.79 L242.25,435.12 L243.27,435.45 L244.29,435.76 L245.31,436.07 L246.33,436.37 L247.35,436.67 L248.37,436.95 L249.39,437.22 L250.41,437.49 L251.43,437.75 L252.44,438.01 L253.46,438.25 L254.48,438.49 L255.5,438.72 L256.52,438.95 L257.54,439.17 L258.56,439.38 L258.56,434.5 L260.15,434.76 L261.74,435.02 L263.32,435.28 L264.91,435.54 L266.5,435.8" stroke="#008000" stroke-width="2.2" fill="none" stroke-linejoin="round"/>
<path d="M73.44,432.3V416.8" stroke="#008000" stroke-width="2"/>
<path d="M73.44,407.3L76.04,416.8L70.84,416.8Z" fill="#008000"/>
<path d="M123.49,414V399.3" stroke="#008000" stroke-width="2"/>
<path d="M123.49,389.8L126.09,399.3L120.89,399.3Z" fill="#008000"/>
<path d="M145.9,398V379.8" stroke="#FF0000" stroke-width="2.3" stroke-dasharray="7 1.9 3.1 1.9"/>
<path d="M145.9,370L148.3,379.8L143.5,379.8Z" fill="#FF0000"/>
<path d="M258.56,432.3V416.8" stroke="#008000" stroke-width="2"/>
<path d="M258.56,407.3L261.16,416.8L255.96,416.8Z" fill="#008000"/>
<path d="M208.51,414V399.3" stroke="#008000" stroke-width="2"/>
<path d="M208.51,389.8L211.11,399.3L205.91,399.3Z" fill="#008000"/>
<path d="M186.1,398V379.8" stroke="#FF0000" stroke-width="2.3" stroke-dasharray="7 1.9 3.1 1.9"/>
<path d="M186.1,370L188.5,379.8L183.7,379.8Z" fill="#FF0000"/>
<path d="M65.5,467.5v-1.3M65.5,308.5v1.3M75.55,467.5v-1.3M75.55,308.5v1.3M85.6,467.5v-1.3M85.6,308.5v1.3M95.65,467.5v-1.3M95.65,308.5v1.3M105.7,467.5v-1.3M105.7,308.5v1.3M115.75,467.5v-1.3M115.75,308.5v1.3M125.8,467.5v-1.3M125.8,308.5v1.3M135.85,467.5v-1.3M135.85,308.5v1.3M145.9,467.5v-1.3M145.9,308.5v1.3M155.95,467.5v-1.3M155.95,308.5v1.3M166,467.5v-1.3M166,308.5v1.3M176.05,467.5v-1.3M176.05,308.5v1.3M186.1,467.5v-1.3M186.1,308.5v1.3M196.15,467.5v-1.3M196.15,308.5v1.3M206.2,467.5v-1.3M206.2,308.5v1.3M216.25,467.5v-1.3M216.25,308.5v1.3M226.3,467.5v-1.3M226.3,308.5v1.3M236.35,467.5v-1.3M236.35,308.5v1.3M246.4,467.5v-1.3M246.4,308.5v1.3M256.45,467.5v-1.3M256.45,308.5v1.3M266.5,467.5v-1.3M266.5,308.5v1.3M65.5,467.5v-2.2M65.5,308.5v2.2M105.7,467.5v-2.2M105.7,308.5v2.2M145.9,467.5v-2.2M145.9,308.5v2.2M186.1,467.5v-2.2M186.1,308.5v2.2M226.3,467.5v-2.2M226.3,308.5v2.2M266.5,467.5v-2.2M266.5,308.5v2.2M65.5,467.5h1.3M266.5,467.5h-1.3M65.5,458.87h1.3M266.5,458.87h-1.3M65.5,450.25h1.3M266.5,450.25h-1.3M65.5,441.62h1.3M266.5,441.62h-1.3M65.5,432.99h1.3M266.5,432.99h-1.3M65.5,424.36h1.3M266.5,424.36h-1.3M65.5,415.74h1.3M266.5,415.74h-1.3M65.5,407.11h1.3M266.5,407.11h-1.3M65.5,398.48h1.3M266.5,398.48h-1.3M65.5,389.86h1.3M266.5,389.86h-1.3M65.5,381.23h1.3M266.5,381.23h-1.3M65.5,372.6h1.3M266.5,372.6h-1.3M65.5,363.97h1.3M266.5,363.97h-1.3M65.5,355.35h1.3M266.5,355.35h-1.3M65.5,346.72h1.3M266.5,346.72h-1.3M65.5,338.09h1.3M266.5,338.09h-1.3M65.5,329.47h1.3M266.5,329.47h-1.3M65.5,320.84h1.3M266.5,320.84h-1.3M65.5,312.21h1.3M266.5,312.21h-1.3M65.5,467.5h2.2M266.5,467.5h-2.2M65.5,424.36h2.2M266.5,424.36h-2.2M65.5,381.23h2.2M266.5,381.23h-2.2M65.5,338.09h2.2M266.5,338.09h-2.2" stroke="#777777" stroke-width="0.8" fill="none"/>
<rect x="65.5" y="308.5" width="201" height="159" stroke="#777777" stroke-width="1" fill="none"/>
<text x="59.8" y="471.7" font-size="16" text-anchor="end" textLength="8.56" lengthAdjust="spacingAndGlyphs">0</text>
<text x="59.8" y="428.56" font-size="16" text-anchor="end" textLength="21.4" lengthAdjust="spacingAndGlyphs">0.1</text>
<text x="59.8" y="385.43" font-size="16" text-anchor="end" textLength="21.4" lengthAdjust="spacingAndGlyphs">0.2</text>
<text x="59.8" y="342.29" font-size="16" text-anchor="end" textLength="21.4" lengthAdjust="spacingAndGlyphs">0.3</text>
<text x="65.5" y="486.7" font-size="16" text-anchor="middle" textLength="23.03" lengthAdjust="spacingAndGlyphs">-50</text>
<text x="105.7" y="486.7" font-size="16" text-anchor="middle" textLength="23.03" lengthAdjust="spacingAndGlyphs">-30</text>
<text x="145.9" y="486.7" font-size="16" text-anchor="middle" textLength="23.03" lengthAdjust="spacingAndGlyphs">-10</text>
<text x="186.1" y="486.7" font-size="16" text-anchor="middle" textLength="17.28" lengthAdjust="spacingAndGlyphs">10</text>
<text x="226.3" y="486.7" font-size="16" text-anchor="middle" textLength="17.28" lengthAdjust="spacingAndGlyphs">30</text>
<text x="266.5" y="486.7" font-size="16" text-anchor="middle" textLength="17.28" lengthAdjust="spacingAndGlyphs">50</text>
<text x="95.9" y="509" font-size="18.5" textLength="64.4" lengthAdjust="spacingAndGlyphs">Voltage,</text>
<text x="167" y="509" font-size="18.5" textLength="66.7" lengthAdjust="spacingAndGlyphs"><tspan font-style="italic">eU</tspan><tspan font-size="22.2" dy="2.22">/</tspan><tspan font-style="italic" dy="-2.22">k</tspan><tspan font-style="italic" font-size="12.0" dy="3.33">B</tspan><tspan font-style="italic" dy="-3.33">T</tspan><tspan font-style="italic" font-size="12.0" dy="3.33">c</tspan></text>
<text transform="translate(29,498.9) rotate(-90)" x="0" y="0" font-size="18" textLength="100.2" lengthAdjust="spacingAndGlyphs">Capacitance,</text>
<text transform="translate(29,396) rotate(-90)" x="0" y="0" font-size="18" textLength="94.3" lengthAdjust="spacingAndGlyphs"><tspan font-style="italic">a</tspan><tspan font-size="12.6" dy="-6.48">2</tspan><tspan font-style="italic" dy="6.48">k</tspan><tspan font-style="italic" font-size="11.7" dy="3.24">B</tspan><tspan font-style="italic" dy="-3.24">T</tspan><tspan font-style="italic" font-size="11.7" dy="3.24">c</tspan><tspan font-style="italic" dy="-3.24">C</tspan><tspan font-size="21.6" dy="2.16">/</tspan><tspan font-style="italic" dy="-2.16">e</tspan><tspan font-size="12.6" dy="-6.48">2</tspan></text>
<path d="M340.5,465.5 L341.73,465.48 L342.97,465.42 L344.2,465.33 L345.43,465.2 L346.66,465.05 L347.9,464.86 L349.13,464.65 L350.36,464.42 L351.59,464.18 L352.83,463.92 L354.06,463.66 L355.29,463.39 L356.53,463.11 L357.76,462.82 L358.99,462.51 L360.22,462.19 L361.46,461.85 L362.69,461.48 L363.92,461.07 L365.15,460.65 L366.39,460.19 L367.62,459.72 L368.85,459.24 L370.08,458.74 L371.32,458.23 L372.55,457.71 L373.78,457.19 L375.02,456.66 L376.25,456.12 L377.48,455.56 L378.71,454.99 L379.95,454.4 L381.18,453.78 L382.41,453.14 L383.64,452.48 L384.88,451.8 L386.11,451.1 L387.34,450.4 L388.58,449.7 L389.81,449 L391.04,448.3 L392.27,447.62 L393.51,446.95 L394.74,446.29 L395.97,445.62 L397.2,444.96 L398.44,444.3 L399.67,443.65 L400.9,442.99 L402.14,442.33 L403.37,441.66 L404.6,440.99 L405.83,440.32 L407.07,439.64 L408.3,438.95 L409.53,438.26 L410.76,437.55 L412,436.82 L413.23,436.09 L414.46,435.33 L415.69,434.56 L416.93,433.77 L418.16,432.95 L419.39,432.11 L420.63,431.24 L421.86,430.35 L423.09,429.43 L424.32,428.46 L425.56,427.45 L426.79,426.43 L428.02,425.4 L429.25,424.4 L430.49,423.45 L431.72,422.53 L432.95,421.62 L434.19,420.71 L435.42,419.81 L436.65,418.91 L437.88,418.01 L439.12,417.11 L440.35,416.2 L441.58,415.3 L442.81,414.39 L444.05,413.49 L445.28,412.58 L446.51,411.67 L447.75,410.76 L448.98,409.85 L450.21,408.93 L451.44,408.01 L452.68,407.09 L453.91,406.16 L455.14,405.22 L456.37,404.28 L457.61,403.33 L458.84,402.37 L460.07,401.4 L461.31,400.43 L462.54,399.46 L463.77,398.49 L465,397.53 L466.24,396.56 L467.47,395.6 L468.7,394.64 L469.93,393.68 L471.17,392.72 L472.4,391.76 L473.63,390.8 L474.86,389.84 L476.1,388.89 L477.33,387.93 L478.56,386.98 L479.8,386.02 L481.03,385.06 L482.26,384.08 L483.49,383.09 L484.73,382.09 L485.96,381.08 L487.19,380.06 L488.42,379.02 L489.66,377.98 L490.89,376.93 L492.12,375.87 L493.36,374.81 L494.59,373.74 L495.82,372.66 L497.05,371.59 L498.29,370.52 L499.52,369.46 L500.75,368.41 L501.98,367.36 L503.22,366.33 L504.45,365.31 L505.68,364.31 L506.92,363.31 L508.15,362.31 L509.38,361.32 L510.61,360.32 L511.85,359.34 L513.08,358.36 L514.31,357.38 L515.54,356.4 L516.78,355.43 L518.01,354.45 L519.24,353.48 L520.47,352.52 L521.71,351.55 L522.94,350.6 L524.17,349.64 L525.41,348.7 L526.64,347.76 L527.87,346.83 L529.1,345.91 L530.34,345 L531.57,344.1 L532.8,343.21 L534.03,342.34 L535.27,341.47 L536.5,340.63" stroke="#0072BD" stroke-width="3.3" stroke-dasharray="3.3 2.65" fill="none" stroke-linejoin="round"/>
<path d="M340.5,465.5 L341.51,465.49 L342.51,465.47 L343.52,465.44 L344.52,465.39 L345.53,465.33 L346.53,465.25 L347.54,465.16 L348.54,465.06 L349.55,464.94 L350.55,464.8 L351.56,464.66 L352.56,464.5 L353.57,464.32 L354.57,464.13 L355.58,463.93 L356.58,463.71 L357.59,463.48 L358.59,463.23 L359.6,462.97 L360.6,462.7 L361.61,462.41 L362.61,462.1 L363.62,461.78 L364.62,461.45 L365.63,461.1 L366.63,460.74 L367.64,460.36 L368.64,459.97 L369.65,459.57 L370.65,459.15 L371.66,458.72 L372.66,458.28 L373.67,457.82 L374.67,457.35 L375.68,456.87 L376.68,456.37 L377.69,455.86 L378.69,455.33 L379.7,454.79 L379.7,454.76 L381.02,450.62 L382.34,449.88 L383.65,449.14 L384.97,448.43 L386.29,447.71 L387.61,446.99 L388.92,446.28 L390.24,445.56 L391.56,444.84 L392.88,444.12 L394.19,443.39 L395.51,442.66 L396.83,441.92 L398.15,441.18 L399.47,440.43 L400.78,439.68 L402.1,438.92 L403.42,438.15 L404.74,437.37 L406.05,436.58 L407.37,435.79 L408.69,434.98 L410.01,434.16 L411.32,433.32 L412.64,432.48 L413.96,431.61 L415.28,430.73 L416.59,429.84 L417.91,428.92 L419.23,427.98 L420.55,427.02 L421.86,426.03 L423.18,425 L424.5,423.94 L425.82,422.86 L427.14,421.75 L428.45,420.66 L429.77,419.58 L431.09,418.53 L432.41,417.5 L433.72,416.48 L435.04,415.47 L436.36,414.46 L437.68,413.47 L438.99,412.48 L440.31,411.5 L441.63,410.52 L442.95,409.54 L444.26,408.56 L445.58,407.57 L446.9,406.58 L448.22,405.57 L449.54,404.56 L450.85,403.53 L452.17,402.49 L453.49,401.42 L454.81,400.33 L456.12,399.22 L457.44,398.08 L458.76,396.91 L460.08,395.7 L461.39,394.47 L462.71,393.23 L464.03,392 L465.35,390.75 L466.66,389.49 L467.98,388.22 L469.3,386.93 L470.62,385.62 L471.94,384.34 L473.25,383.07 L474.57,381.84 L475.89,380.63 L477.21,379.46 L478.52,378.32 L479.84,377.22 L481.16,376.13 L482.48,375.03 L483.79,373.93 L485.11,372.81 L486.43,371.68 L487.75,370.53 L489.06,369.37 L490.38,368.18 L491.7,366.99 L493.02,365.8 L494.34,364.6 L495.65,363.4 L496.97,362.21 L498.29,361.01 L499.61,359.82 L500.92,358.64 L502.24,357.47 L503.56,356.3 L504.88,355.14 L506.19,354 L507.51,352.85 L508.83,351.7 L510.15,350.56 L511.46,349.42 L512.78,348.29 L514.1,347.16 L515.42,346.03 L516.74,344.9 L518.05,343.77 L519.37,342.64 L520.69,341.51 L522.01,340.38 L523.32,339.26 L524.64,338.15 L525.96,337.04 L527.28,335.94 L528.59,334.85 L529.91,333.77 L531.23,332.7 L532.55,331.64 L533.86,330.6 L535.18,329.57 L536.5,328.56" stroke="#FF0000" stroke-width="2.3" stroke-dasharray="7 1.9 3.1 1.9" fill="none" stroke-linejoin="round"/>
<path d="M340.5,465.5 L341.89,465.49 L343.29,465.45 L344.68,465.38 L346.07,465.29 L347.46,465.17 L348.86,465.03 L350.25,464.85 L351.64,464.66 L353.03,464.43 L354.43,464.18 L355.82,463.91 L357.21,463.6 L358.6,463.28 L360,462.92 L361.39,462.54 L362.78,462.13 L364.17,461.7 L365.57,461.24 L366.96,460.75 L368.35,460.24 L369.74,459.7 L371.14,459.13 L372.53,458.53 L373.92,457.91 L375.31,457.25 L376.71,456.57 L378.1,455.87 L379.49,455.15 L380.89,454.41 L382.28,453.64 L383.67,452.85 L385.06,452.03 L386.46,451.2 L387.85,450.35 L389.24,449.47 L390.63,448.59 L392.03,447.69 L393.42,446.79 L394.81,445.87 L396.2,444.95 L397.6,444.01 L398.99,443.07 L400.38,442.11 L401.77,441.14 L403.17,440.16 L404.56,439.17 L405.95,438.16 L407.34,437.15 L408.74,436.13 L410.13,435.09 L411.52,434.05 L412.92,432.99 L414.31,431.92 L415.7,430.84 L417.09,429.76 L418.49,428.67 L419.88,427.57 L421.27,426.46 L422.66,425.36 L422.66,425.32 L423.9,420.97 L425.14,420.05 L426.38,419.13 L427.61,418.19 L428.85,417.25 L430.09,416.31 L431.33,415.37 L432.56,414.41 L433.8,413.44 L435.04,412.47 L436.28,411.48 L437.51,410.48 L438.75,409.47 L439.99,408.46 L441.23,407.43 L442.46,406.41 L443.7,405.38 L444.94,404.34 L446.18,403.3 L447.41,402.26 L448.65,401.22 L449.89,400.17 L451.13,399.12 L452.36,398.07 L453.6,397.01 L454.84,395.96 L456.08,394.89 L457.31,393.81 L458.55,392.71 L459.79,391.61 L461.03,390.5 L462.26,389.39 L463.5,388.27 L464.74,387.15 L465.98,386.02 L467.21,384.88 L468.45,383.74 L469.69,382.58 L470.93,381.42 L472.16,380.25 L473.4,379.07 L474.64,377.9 L475.88,376.72 L477.11,375.54 L478.35,374.37 L479.59,373.2 L480.83,372.02 L482.06,370.84 L483.3,369.66 L484.54,368.47 L485.78,367.27 L487.01,366.07 L488.25,364.87 L489.49,363.67 L490.73,362.47 L491.96,361.26 L493.2,360.05 L494.44,358.84 L495.68,357.63 L496.92,356.41 L498.15,355.19 L499.39,353.97 L500.63,352.75 L501.87,351.53 L503.1,350.31 L504.34,349.09 L505.58,347.86 L506.82,346.64 L508.05,345.43 L509.29,344.21 L510.53,343 L511.77,341.79 L513,340.58 L514.24,339.37 L515.48,338.17 L516.72,336.98 L517.95,335.79 L519.19,334.61 L520.43,333.43 L520.43,335.96 L522.21,324.06 L524,322 L525.79,319.92 L527.57,317.83 L529.36,315.71 L531.14,313.57 L532.93,311.41 L534.71,309.24 L536.5,307.04" stroke="#008000" stroke-width="2.2" fill="none" stroke-linejoin="round"/>
<path d="M340.5,465.5v-1.3M340.5,306.5v1.3M348.34,465.5v-1.3M348.34,306.5v1.3M356.18,465.5v-1.3M356.18,306.5v1.3M364.02,465.5v-1.3M364.02,306.5v1.3M371.86,465.5v-1.3M371.86,306.5v1.3M379.7,465.5v-1.3M379.7,306.5v1.3M387.54,465.5v-1.3M387.54,306.5v1.3M395.38,465.5v-1.3M395.38,306.5v1.3M403.22,465.5v-1.3M403.22,306.5v1.3M411.06,465.5v-1.3M411.06,306.5v1.3M418.9,465.5v-1.3M418.9,306.5v1.3M426.74,465.5v-1.3M426.74,306.5v1.3M434.58,465.5v-1.3M434.58,306.5v1.3M442.42,465.5v-1.3M442.42,306.5v1.3M450.26,465.5v-1.3M450.26,306.5v1.3M458.1,465.5v-1.3M458.1,306.5v1.3M465.94,465.5v-1.3M465.94,306.5v1.3M473.78,465.5v-1.3M473.78,306.5v1.3M481.62,465.5v-1.3M481.62,306.5v1.3M489.46,465.5v-1.3M489.46,306.5v1.3M497.3,465.5v-1.3M497.3,306.5v1.3M505.14,465.5v-1.3M505.14,306.5v1.3M512.98,465.5v-1.3M512.98,306.5v1.3M520.82,465.5v-1.3M520.82,306.5v1.3M528.66,465.5v-1.3M528.66,306.5v1.3M536.5,465.5v-1.3M536.5,306.5v1.3M340.5,465.5v-2.2M340.5,306.5v2.2M379.7,465.5v-2.2M379.7,306.5v2.2M418.9,465.5v-2.2M418.9,306.5v2.2M458.1,465.5v-2.2M458.1,306.5v2.2M497.3,465.5v-2.2M497.3,306.5v2.2M536.5,465.5v-2.2M536.5,306.5v2.2M340.5,465.5h1.3M536.5,465.5h-1.3M340.5,458.93h1.3M536.5,458.93h-1.3M340.5,452.36h1.3M536.5,452.36h-1.3M340.5,445.79h1.3M536.5,445.79h-1.3M340.5,439.22h1.3M536.5,439.22h-1.3M340.5,432.65h1.3M536.5,432.65h-1.3M340.5,426.08h1.3M536.5,426.08h-1.3M340.5,419.51h1.3M536.5,419.51h-1.3M340.5,412.94h1.3M536.5,412.94h-1.3M340.5,406.37h1.3M536.5,406.37h-1.3M340.5,399.8h1.3M536.5,399.8h-1.3M340.5,393.23h1.3M536.5,393.23h-1.3M340.5,386.66h1.3M536.5,386.66h-1.3M340.5,380.09h1.3M536.5,380.09h-1.3M340.5,373.52h1.3M536.5,373.52h-1.3M340.5,366.95h1.3M536.5,366.95h-1.3M340.5,360.38h1.3M536.5,360.38h-1.3M340.5,353.81h1.3M536.5,353.81h-1.3M340.5,347.24h1.3M536.5,347.24h-1.3M340.5,340.67h1.3M536.5,340.67h-1.3M340.5,334.1h1.3M536.5,334.1h-1.3M340.5,327.52h1.3M536.5,327.52h-1.3M340.5,320.95h1.3M536.5,320.95h-1.3M340.5,314.38h1.3M536.5,314.38h-1.3M340.5,307.81h1.3M536.5,307.81h-1.3M340.5,465.5h2.2M536.5,465.5h-2.2M340.5,432.65h2.2M536.5,432.65h-2.2M340.5,399.8h2.2M536.5,399.8h-2.2M340.5,366.95h2.2M536.5,366.95h-2.2M340.5,334.1h2.2M536.5,334.1h-2.2M340.5,306.5h2.2M536.5,306.5h-2.2" stroke="#777777" stroke-width="0.8" fill="none"/>
<rect x="340.5" y="306.5" width="196" height="159" stroke="#777777" stroke-width="1" fill="none"/>
<text x="334.3" y="469.5" font-size="15.5" text-anchor="end" textLength="8.53" lengthAdjust="spacingAndGlyphs">0</text>
<text x="334.3" y="436.65" font-size="15.5" text-anchor="end" textLength="17.05" lengthAdjust="spacingAndGlyphs">25</text>
<text x="334.3" y="403.8" font-size="15.5" text-anchor="end" textLength="17.05" lengthAdjust="spacingAndGlyphs">50</text>
<text x="334.3" y="370.95" font-size="15.5" text-anchor="end" textLength="17.05" lengthAdjust="spacingAndGlyphs">75</text>
<text x="334.3" y="338.1" font-size="15.5" text-anchor="end" textLength="25.58" lengthAdjust="spacingAndGlyphs">100</text>
<text x="334.3" y="310.5" font-size="15.5" text-anchor="end" textLength="25.58" lengthAdjust="spacingAndGlyphs">121</text>
<text x="340.5" y="484" font-size="15.5" text-anchor="middle" textLength="8.53" lengthAdjust="spacingAndGlyphs">0</text>
<text x="379.7" y="484" font-size="15.5" text-anchor="middle" textLength="17.05" lengthAdjust="spacingAndGlyphs">10</text>
<text x="418.9" y="484" font-size="15.5" text-anchor="middle" textLength="17.05" lengthAdjust="spacingAndGlyphs">20</text>
<text x="458.1" y="484" font-size="15.5" text-anchor="middle" textLength="17.05" lengthAdjust="spacingAndGlyphs">30</text>
<text x="497.3" y="484" font-size="15.5" text-anchor="middle" textLength="17.05" lengthAdjust="spacingAndGlyphs">40</text>
<text x="536.5" y="484" font-size="15.5" text-anchor="middle" textLength="17.05" lengthAdjust="spacingAndGlyphs">50</text>
<text x="375.2" y="505.3" font-size="17" textLength="58.6" lengthAdjust="spacingAndGlyphs">Voltage,</text>
<text x="439.8" y="505.3" font-size="17" textLength="61.7" lengthAdjust="spacingAndGlyphs"><tspan font-style="italic">eU</tspan><tspan font-size="20.4" dy="2.04">/</tspan><tspan font-style="italic" dy="-2.04">k</tspan><tspan font-style="italic" font-size="11.1" dy="3.06">B</tspan><tspan font-style="italic" dy="-3.06">T</tspan><tspan font-style="italic" font-size="11.1" dy="3.06">c</tspan></text>
<text transform="translate(301.3,450) rotate(-90)" x="0" y="0" font-size="17" textLength="55.2" lengthAdjust="spacingAndGlyphs">Energy,</text>
<text transform="translate(301.3,390.3) rotate(-90)" x="0" y="0" font-size="17" textLength="69" lengthAdjust="spacingAndGlyphs"><tspan font-style="italic">a</tspan><tspan font-size="11.9" dy="-6.12">2</tspan><tspan font-style="italic" dy="6.12">E</tspan><tspan font-size="20.4" dy="2.04">/</tspan><tspan font-style="italic" dy="-2.04">k</tspan><tspan font-style="italic" font-size="11.1" dy="3.06">B</tspan><tspan font-style="italic" dy="-3.06">T</tspan><tspan font-style="italic" font-size="11.1" dy="3.06">c</tspan></text>
<rect x="361.5" y="312.5" width="94.5" height="72" fill="#fff"/>
<clipPath id="cdi"><rect x="361.5" y="311.0" width="96" height="73.5"/></clipPath>
<path d="M361.5,384.39 L362.09,384.12 L362.69,383.85 L363.28,383.57 L363.88,383.29 L364.47,383.01 L365.07,382.73 L365.66,382.45 L366.25,382.16 L366.85,381.87 L367.44,381.58 L368.04,381.29 L368.63,380.99 L369.23,380.7 L369.82,380.39 L370.42,380.09 L371.01,379.78 L371.6,379.47 L372.2,379.15 L372.79,378.83 L373.39,378.51 L373.98,378.18 L374.58,377.85 L375.17,377.52 L375.76,377.18 L376.36,376.84 L376.95,376.5 L377.55,376.16 L378.14,375.81 L378.74,375.46 L379.33,375.11 L379.92,374.76 L380.52,374.4 L381.11,374.05 L381.71,373.69 L382.3,373.33 L382.9,372.97 L383.49,372.61 L384.08,372.24 L384.68,371.88 L385.27,371.52 L385.87,371.16 L386.46,370.79 L387.06,370.43 L387.65,370.07 L388.25,369.71 L388.84,369.35 L389.43,368.99 L390.03,368.63 L390.62,368.27 L391.22,367.92 L391.81,367.57 L392.41,367.22 L393,366.87 L393.59,366.52 L394.19,366.18 L394.78,365.84 L395.38,365.49 L395.97,365.15 L396.57,364.81 L397.16,364.47 L397.75,364.12 L398.35,363.78 L398.94,363.44 L399.54,363.1 L400.13,362.76 L400.73,362.42 L401.32,362.08 L401.92,361.74 L402.51,361.4 L403.1,361.06 L403.7,360.72 L404.29,360.38 L404.89,360.04 L405.48,359.7 L406.08,359.36 L406.67,359.02 L407.26,358.68 L407.86,358.34 L408.45,358 L409.05,357.66 L409.64,357.32 L410.24,356.98 L410.83,356.64 L411.42,356.3 L412.02,355.95 L412.61,355.61 L413.21,355.27 L413.8,354.92 L414.4,354.57 L414.99,354.23 L415.58,353.88 L416.18,353.53 L416.77,353.18 L417.37,352.84 L417.96,352.48 L418.56,352.13 L419.15,351.78 L419.75,351.42 L420.34,351.07 L420.93,350.71 L421.53,350.35 L422.12,349.99 L422.72,349.63 L423.31,349.27 L423.91,348.9 L424.5,348.54 L425.09,348.17 L425.69,347.8 L426.28,347.43 L426.88,347.05 L427.47,346.67 L428.07,346.3 L428.66,345.91 L429.25,345.53 L429.85,345.14 L430.44,344.76 L431.04,344.37 L431.63,343.97 L432.23,343.57 L432.82,343.18 L433.42,342.77 L434.01,342.37 L434.6,341.96 L435.2,341.55 L435.79,341.13 L436.39,340.71 L436.98,340.29 L437.58,339.87 L438.17,339.44 L438.76,339 L439.36,338.57 L439.95,338.13 L440.55,337.69 L441.14,337.24 L441.74,336.79 L442.33,336.34 L442.92,335.88 L443.52,335.42 L444.11,334.96 L444.71,334.49 L445.3,334.02 L445.9,333.54 L446.49,333.06 L447.08,332.56 L447.68,332.06 L448.27,331.56 L448.87,331.04 L449.46,330.53 L450.06,330 L450.65,329.48 L451.25,328.95 L451.84,328.42 L452.43,327.89 L453.03,327.36 L453.62,326.83 L454.22,326.31 L454.81,325.78 L455.41,325.26 L456,324.74" stroke="#0072BD" stroke-width="3.3" stroke-dasharray="3.3 2.65" fill="none" stroke-linejoin="round" clip-path="url(#cdi)"/>
<path d="M361.5,385.43 L361.74,385.31 L361.98,385.19 L362.22,385.07 L362.46,384.95 L362.7,384.83 L362.94,384.7 L363.18,384.58 L363.41,384.46 L363.65,384.33 L363.89,384.21 L364.13,384.08 L364.37,383.96 L364.61,383.83 L364.85,383.7 L365.09,383.58 L365.33,383.45 L365.57,383.32 L365.81,383.19 L366.05,383.06 L366.29,382.93 L366.53,382.8 L366.77,382.67 L367,382.54 L367.24,382.41 L367.48,382.28 L367.72,382.14 L367.96,382.01 L368.2,381.88 L368.44,381.74 L368.68,381.61 L368.92,381.47 L369.16,381.34 L369.4,381.2 L369.64,381.07 L369.88,380.93 L370.12,380.79 L370.36,380.65 L370.59,380.52 L370.83,380.38 L370.83,380.31 L371.55,373.57 L372.27,373.14 L372.98,372.71 L373.7,372.28 L374.41,371.85 L375.13,371.41 L375.84,370.98 L376.56,370.56 L377.28,370.13 L377.99,369.71 L378.71,369.3 L379.42,368.88 L380.14,368.47 L380.85,368.05 L381.57,367.63 L382.29,367.22 L383,366.8 L383.72,366.39 L384.43,365.97 L385.15,365.55 L385.86,365.14 L386.58,364.72 L387.3,364.31 L388.01,363.89 L388.73,363.47 L389.44,363.05 L390.16,362.64 L390.87,362.22 L391.59,361.8 L392.31,361.38 L393.02,360.96 L393.74,360.54 L394.45,360.12 L395.17,359.7 L395.88,359.28 L396.6,358.85 L397.31,358.43 L398.03,358 L398.75,357.58 L399.46,357.15 L400.18,356.72 L400.89,356.29 L401.61,355.86 L402.32,355.43 L403.04,355 L403.76,354.57 L404.47,354.13 L405.19,353.7 L405.9,353.26 L406.62,352.82 L407.33,352.38 L408.05,351.94 L408.77,351.5 L409.48,351.06 L410.2,350.61 L410.91,350.17 L411.63,349.72 L412.34,349.27 L413.06,348.82 L413.78,348.37 L414.49,347.91 L415.21,347.46 L415.92,347 L416.64,346.54 L417.35,346.08 L418.07,345.62 L418.78,345.15 L419.5,344.69 L420.22,344.22 L420.93,343.75 L421.65,343.28 L422.36,342.8 L423.08,342.32 L423.79,341.84 L424.51,341.36 L425.23,340.88 L425.94,340.39 L426.66,339.9 L427.37,339.41 L428.09,338.91 L428.8,338.42 L429.52,337.92 L430.24,337.41 L430.95,336.91 L431.67,336.4 L432.38,335.88 L433.1,335.37 L433.81,334.85 L434.53,334.33 L435.25,333.8 L435.96,333.27 L436.68,332.74 L437.39,332.2 L438.11,331.66 L438.82,331.11 L439.54,330.57 L440.26,330.01 L440.97,329.45 L441.69,328.89 L442.4,328.32 L443.12,327.74 L443.83,327.16 L444.55,326.58 L445.26,325.99 L445.98,325.39 L446.7,324.79 L447.41,324.18 L448.13,323.56 L448.84,322.93 L449.56,322.31 L450.27,321.67 L450.99,321.04 L451.71,320.4 L452.42,319.76 L453.14,319.12 L453.85,318.48 L454.57,317.84 L455.28,317.21 L456,316.57" stroke="#FF0000" stroke-width="2.3" stroke-dasharray="7 1.9 3.1 1.9" fill="none" stroke-linejoin="round" clip-path="url(#cdi)"/>
<path d="M361.5,385.81 L362.92,385.1 L364.35,384.36 L365.77,383.61 L367.2,382.85 L368.62,382.07 L370.04,381.28 L371.47,380.48 L372.89,379.67 L374.31,378.83 L375.74,377.98 L377.16,377.12 L378.59,376.24 L380.01,375.35 L381.43,374.44 L382.86,373.52 L384.28,372.59 L385.71,371.64 L387.13,370.69 L388.55,369.73 L389.98,368.76 L391.4,367.78 L392.82,366.79 L394.25,365.8 L395.67,364.81 L397.1,363.81 L398.52,362.8 L399.94,361.79 L401.37,360.76 L402.79,359.73 L404.22,358.7 L405.64,357.65 L407.06,356.6 L408.49,355.54 L409.91,354.48 L411.33,353.4 L412.76,352.32 L414.18,351.24 L415.61,350.14 L417.03,349.04 L418.45,347.94 L419.88,346.82 L421.3,345.7 L422.73,344.57 L424.15,343.43 L425.57,342.29 L427,341.14 L428.42,339.98 L429.85,338.82 L431.27,337.65 L432.69,336.47 L434.12,335.29 L435.54,334.11 L436.96,332.91 L438.39,331.72 L439.81,330.52 L441.24,329.32 L442.66,328.11 L444.08,326.9 L445.51,325.68 L445.51,325.62 L445.64,319.13 L445.77,319.02 L445.91,318.92 L446.04,318.82 L446.17,318.71 L446.31,318.61 L446.44,318.5 L446.57,318.4 L446.7,318.29 L446.84,318.19 L446.97,318.08 L447.1,317.98 L447.23,317.88 L447.37,317.77 L447.5,317.67 L447.63,317.56 L447.77,317.46 L447.9,317.35 L448.03,317.24 L448.16,317.14 L448.3,317.03 L448.43,316.93 L448.56,316.82 L448.7,316.72 L448.83,316.61 L448.96,316.51 L449.09,316.4 L449.23,316.3 L449.36,316.19 L449.49,316.08 L449.63,315.98 L449.76,315.87 L449.89,315.77 L450.02,315.66 L450.16,315.55 L450.29,315.45 L450.42,315.34 L450.55,315.24 L450.69,315.13 L450.82,315.02 L450.95,314.92 L451.09,314.81 L451.22,314.7 L451.35,314.6 L451.48,314.49 L451.62,314.38 L451.75,314.28 L451.88,314.17 L452.02,314.06 L452.15,313.96 L452.28,313.85 L452.41,313.74 L452.55,313.64 L452.68,313.53 L452.81,313.42 L452.95,313.32 L453.08,313.21 L453.21,313.1 L453.34,312.99 L453.48,312.89 L453.61,312.78 L453.74,312.67 L453.88,312.56 L454.01,312.46 L454.14,312.35 L454.27,312.24 L454.41,312.14 L454.54,312.03 L454.67,311.92 L454.8,311.81 L454.94,311.71 L455.07,311.6 L455.2,311.49 L455.34,311.38 L455.47,311.27 L455.6,311.17 L455.73,311.06 L455.87,310.95 L456,310.84" stroke="#008000" stroke-width="2.2" fill="none" stroke-linejoin="round" clip-path="url(#cdi)"/>
<path d="M364.02,384.5v-1.2M364.02,312.5v1.2M370.83,384.5v-1.2M370.83,312.5v1.2M377.65,384.5v-1.2M377.65,312.5v1.2M384.46,384.5v-1.2M384.46,312.5v1.2M391.27,384.5v-1.2M391.27,312.5v1.2M398.09,384.5v-1.2M398.09,312.5v1.2M404.9,384.5v-1.2M404.9,312.5v1.2M411.71,384.5v-1.2M411.71,312.5v1.2M418.53,384.5v-1.2M418.53,312.5v1.2M425.34,384.5v-1.2M425.34,312.5v1.2M432.15,384.5v-1.2M432.15,312.5v1.2M438.97,384.5v-1.2M438.97,312.5v1.2M445.78,384.5v-1.2M445.78,312.5v1.2M452.59,384.5v-1.2M452.59,312.5v1.2M370.83,384.5v-2.2M370.83,312.5v2.2M404.9,384.5v-2.2M404.9,312.5v2.2M438.97,384.5v-2.2M438.97,312.5v2.2M361.5,380.74h1.2M456,380.74h-1.2M361.5,375.86h1.2M456,375.86h-1.2M361.5,370.97h1.2M456,370.97h-1.2M361.5,366.09h1.2M456,366.09h-1.2M361.5,361.21h1.2M456,361.21h-1.2M361.5,356.33h1.2M456,356.33h-1.2M361.5,351.44h1.2M456,351.44h-1.2M361.5,346.56h1.2M456,346.56h-1.2M361.5,341.68h1.2M456,341.68h-1.2M361.5,336.79h1.2M456,336.79h-1.2M361.5,331.91h1.2M456,331.91h-1.2M361.5,327.03h1.2M456,327.03h-1.2M361.5,322.14h1.2M456,322.14h-1.2M361.5,317.26h1.2M456,317.26h-1.2M361.5,375.86h2.2M456,375.86h-2.2M361.5,351.44h2.2M456,351.44h-2.2M361.5,327.03h2.2M456,327.03h-2.2" stroke="#777777" stroke-width="0.8" fill="none"/>
<rect x="361.5" y="312.5" width="94.5" height="72" stroke="#777777" stroke-width="1" fill="none"/>
<text x="357.6" y="378.86" font-size="11" text-anchor="end" textLength="12.1" lengthAdjust="spacingAndGlyphs">10</text>
<text x="357.6" y="354.44" font-size="11" text-anchor="end" textLength="12.1" lengthAdjust="spacingAndGlyphs">20</text>
<text x="357.6" y="330.03" font-size="11" text-anchor="end" textLength="12.1" lengthAdjust="spacingAndGlyphs">30</text>
<text x="370.83" y="398.2" font-size="11" text-anchor="middle" textLength="12.1" lengthAdjust="spacingAndGlyphs">10</text>
<text x="404.9" y="398.2" font-size="11" text-anchor="middle" textLength="12.1" lengthAdjust="spacingAndGlyphs">15</text>
<text x="438.97" y="398.2" font-size="11" text-anchor="middle" textLength="12.1" lengthAdjust="spacingAndGlyphs">20</text>
<path d="M436,426H464" stroke="#0072BD" stroke-width="3.3" stroke-dasharray="3.3 2.65"/>
<text x="467" y="429.7" font-size="13.5" textLength="62" lengthAdjust="spacingAndGlyphs"><tspan font-style="italic">T</tspan><tspan font-size="16.2" dy="1.62">/</tspan><tspan font-style="italic" dy="-1.62">T</tspan><tspan font-style="italic" font-size="8.8" dy="2.43">c</tspan><tspan dy="-2.43"> = 0.72</tspan></text>
<path d="M436,440.4H464" stroke="#FF0000" stroke-width="2.3" stroke-dasharray="7 1.9 3.1 1.9"/>
<text x="467" y="444.2" font-size="13.5" textLength="62" lengthAdjust="spacingAndGlyphs"><tspan font-style="italic">T</tspan><tspan font-size="16.2" dy="1.62">/</tspan><tspan font-style="italic" dy="-1.62">T</tspan><tspan font-style="italic" font-size="8.8" dy="2.43">c</tspan><tspan dy="-2.43"> = 0.78</tspan></text>
<path d="M436,455.6H464" stroke="#008000" stroke-width="2"/>
<text x="467" y="458.8" font-size="13.5" textLength="68" lengthAdjust="spacingAndGlyphs"><tspan font-style="italic">T</tspan><tspan font-size="16.2" dy="1.62">/</tspan><tspan font-style="italic" dy="-1.62">T</tspan><tspan font-style="italic" font-size="8.8" dy="2.43">c</tspan><tspan dy="-2.43"> = 0.838</tspan></text>
</svg></body></html>
